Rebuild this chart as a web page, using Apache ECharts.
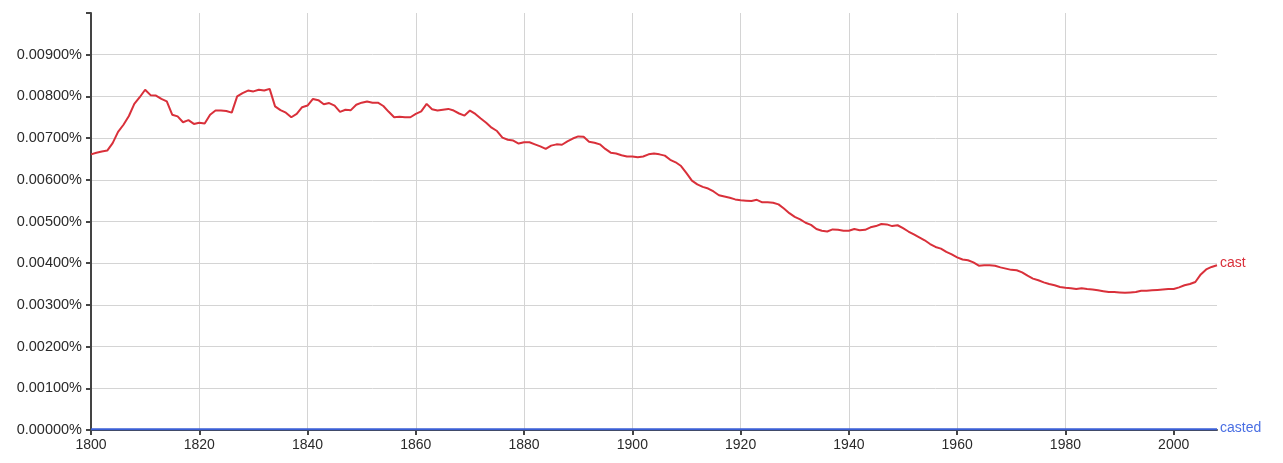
<!DOCTYPE html>
<html>
<head>
<meta charset="utf-8">
<script src="https://cdn.jsdelivr.net/npm/echarts@6/dist/echarts.min.js"></script>
<style>
html,body{margin:0;padding:0;background:#fff;}
#chart{width:1283px;height:463px;}
</style>
</head>
<body>
<div id="chart"></div>
<script>
const startYear = 1800;
const endYear = 2008;
const xTicks = [1800, 1820, 1840, 1860, 1880, 1900, 1920, 1940, 1960, 1980, 2000];
const seriesNames = ['cast', 'casted'];

// values in percent, one per year 1800..2008
const cast = [
  0.00661,0.00665,0.00668,0.00670,0.00688,0.00715,0.00732,0.00753,0.00782,0.00798,
  0.00816,0.00803,0.00802,0.00794,0.00788,0.00756,0.00752,0.00738,0.00743,0.00734,
  0.00737,0.00735,0.00756,0.00766,0.00766,0.00765,0.00761,0.00800,0.00808,0.00814,
  0.00812,0.00816,0.00814,0.00818,0.00776,0.00767,0.00761,0.00750,0.00758,0.00774,
  0.00778,0.00794,0.00791,0.00781,0.00784,0.00778,0.00763,0.00768,0.00767,0.00780,
  0.00785,0.00788,0.00785,0.00785,0.00777,0.00763,0.00750,0.00751,0.00750,0.00750,
  0.00758,0.00764,0.00782,0.00769,0.00766,0.00768,0.00770,0.00766,0.00759,0.00754,
  0.00766,0.00758,0.00747,0.00737,0.00725,0.00717,0.00701,0.00696,0.00694,0.00687,
  0.00690,0.00690,0.00685,0.00680,0.00674,0.00682,0.00685,0.00684,0.00692,0.00699,
  0.00704,0.00703,0.00691,0.00689,0.00685,0.00674,0.00665,0.00663,0.00659,0.00656,
  0.00656,0.00654,0.00656,0.00661,0.00663,0.00661,0.00658,0.00648,0.00642,0.00633,
  0.00616,0.00598,0.00589,0.00583,0.00579,0.00572,0.00563,0.00560,0.00557,0.00553,
  0.00551,0.00550,0.00549,0.00552,0.00546,0.00546,0.00545,0.00541,0.00531,0.00520,
  0.00511,0.00505,0.00497,0.00492,0.00482,0.00478,0.00476,0.00481,0.00480,0.00478,
  0.00478,0.00482,0.00479,0.00480,0.00486,0.00489,0.00494,0.00493,0.00489,0.00491,
  0.00484,0.00476,0.00469,0.00462,0.00455,0.00446,0.00439,0.00435,0.00427,0.00421,
  0.00414,0.00409,0.00407,0.00402,0.00394,0.00395,0.00395,0.00394,0.00390,0.00387,
  0.00384,0.00383,0.00378,0.00370,0.00363,0.00359,0.00354,0.00350,0.00347,0.00343,
  0.00341,0.00340,0.00338,0.00340,0.00338,0.00337,0.00335,0.00333,0.00331,0.00331,
  0.00330,0.00329,0.00330,0.00331,0.00334,0.00334,0.00335,0.00336,0.00337,0.00338,
  0.00338,0.00342,0.00347,0.00350,0.00355,0.00373,0.00385,0.00391,0.00395
];

const casted = [
  0.00002,0.00002,0.00002,0.00002,0.00002,0.00002,0.00002,0.00002,0.00002,0.00002,
  0.00002,0.00002,0.00002,0.00002,0.00002,0.00002,0.00002,0.00002,0.00002,0.00002,
  0.00002,0.00002,0.00002,0.00002,0.00002,0.00002,0.00002,0.00002,0.00002,0.00002,
  0.00002,0.00002,0.00002,0.00002,0.00002,0.00002,0.00002,0.00002,0.00002,0.00002,
  0.00002,0.00002,0.00002,0.00002,0.00002,0.00002,0.00002,0.00002,0.00002,0.00002,
  0.00002,0.00002,0.00002,0.00002,0.00002,0.00002,0.00002,0.00002,0.00002,0.00002,
  0.00002,0.00002,0.00002,0.00002,0.00002,0.00002,0.00002,0.00002,0.00002,0.00002,
  0.00002,0.00002,0.00002,0.00002,0.00002,0.00002,0.00002,0.00002,0.00002,0.00002,
  0.00002,0.00002,0.00002,0.00002,0.00002,0.00002,0.00002,0.00002,0.00002,0.00002,
  0.00002,0.00002,0.00002,0.00002,0.00002,0.00002,0.00002,0.00002,0.00002,0.00002,
  0.00002,0.00002,0.00002,0.00002,0.00002,0.00002,0.00002,0.00002,0.00002,0.00002,
  0.00002,0.00002,0.00002,0.00002,0.00002,0.00002,0.00002,0.00002,0.00002,0.00002,
  0.00002,0.00002,0.00002,0.00002,0.00002,0.00002,0.00002,0.00002,0.00002,0.00002,
  0.00002,0.00002,0.00002,0.00002,0.00002,0.00002,0.00002,0.00002,0.00002,0.00002,
  0.00002,0.00002,0.00002,0.00002,0.00002,0.00002,0.00002,0.00002,0.00002,0.00002,
  0.00002,0.00002,0.00002,0.00002,0.00002,0.00002,0.00002,0.00002,0.00002,0.00002,
  0.00002,0.00002,0.00002,0.00002,0.00002,0.00002,0.00002,0.00002,0.00002,0.00002,
  0.00002,0.00002,0.00002,0.00002,0.00002,0.00002,0.00002,0.00002,0.00002,0.00002,
  0.00002,0.00002,0.00002,0.00002,0.00002,0.00002,0.00002,0.00002,0.00002,0.00002,
  0.00002,0.00002,0.00002,0.00002,0.00002,0.00002,0.00002,0.00002,0.00002,0.00002,
  0.00002,0.00002,0.00002,0.00002,0.00002,0.00002,0.00002,0.00002,0.00002
];

const years = cast.map((_, i) => startYear + i);
const pairs = arr => arr.map((v, i) => [years[i], v]);

const FONT = '"Liberation Sans", Arial, Helvetica, sans-serif';
const RED = '#d9303a';
const BLUE = '#3b5fd6';

const chart = echarts.init(document.getElementById('chart'), null, {renderer: 'canvas'});
chart.setOption({
  animation: false,
  backgroundColor: '#fff',
  grid: {left: 91, right: 66, top: 13, bottom: 33, containLabel: false},
  xAxis: {
    type: 'value',
    min: startYear,
    max: endYear,
    interval: 20,
    axisLine: {show: true, lineStyle: {color: '#444', width: 2}},
    axisTick: {show: true, length: 5, customValues: xTicks, lineStyle: {color: '#444', width: 2}},
    axisLabel: {
      customValues: xTicks,
      color: '#2a2a2a', fontSize: 14, fontFamily: FONT, margin: 8,
      formatter: v => String(v)
    },
    splitLine: {show: true, showMaxLine: false, lineStyle: {color: '#d4d4d4', width: 1}}
  },
  yAxis: {
    type: 'value',
    min: 0,
    max: 0.01,
    interval: 0.001,
    axisLine: {show: true, lineStyle: {color: '#444', width: 2}},
    axisTick: {show: true, length: 5, lineStyle: {color: '#444', width: 2}},
    axisLabel: {
      color: '#2a2a2a', fontSize: 14.5, fontFamily: FONT, margin: 9,
      formatter: v => (v > 0.00995 ? '' : v.toFixed(5) + '%')
    },
    splitLine: {show: true, showMaxLine: false, lineStyle: {color: '#d4d4d4', width: 1}}
  },
  series: [
    {
      name: seriesNames[0],
      type: 'line',
      data: pairs(cast),
      showSymbol: false,
      symbol: 'none',
      lineStyle: {color: RED, width: 2},
      itemStyle: {color: RED},
      endLabel: {show: true, formatter: '{a}', color: RED, fontSize: 14, fontFamily: FONT, distance: 3, offset: [0, -2]},
      z: 3
    },
    {
      name: seriesNames[1],
      type: 'line',
      data: pairs(casted),
      showSymbol: false,
      symbol: 'none',
      lineStyle: {color: BLUE, width: 2},
      itemStyle: {color: BLUE},
      endLabel: {show: true, formatter: '{a}', color: '#4a6fe3', fontSize: 14, fontFamily: FONT, distance: 3, offset: [0, -1]},
      z: 4
    }
  ]
});
</script>
</body>
</html>
